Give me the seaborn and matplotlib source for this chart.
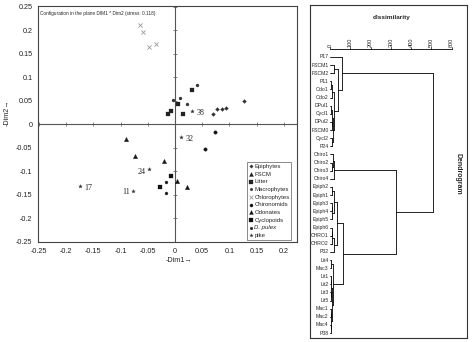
import matplotlib
matplotlib.use("Agg")
import matplotlib.pyplot as plt
import seaborn as sns
import pandas as pd

sns.set_style("white")
plt.rcParams["font.family"] = ["Liberation Sans", "DejaVu Sans"]

# ---------------- data: MDS configuration ----------------
epiphytes_x = [0.070, 0.078, 0.086, 0.093, 0.126]
epiphytes_y = [0.023, 0.033, 0.032, 0.036, 0.050]
fscm_x = [-0.090, -0.074, -0.020]
fscm_y = [-0.031, -0.066, -0.077]
litter_x = [-0.007, -0.012, 0.015, 0.006, 0.032]
litter_y = [0.029, 0.022, 0.022, 0.043, 0.073]
macro_x = [0.040, -0.003, 0.010, 0.022]
macro_y = [0.083, 0.053, 0.057, 0.043]
chloro_x = [-0.064, -0.058, -0.048, -0.035]
chloro_y = [0.212, 0.197, 0.164, 0.171]
chiro_x = [0.074, 0.056]
chiro_y = [-0.015, -0.053]
odo_x = [0.003, 0.023]
odo_y = [-0.121, -0.133]
cyclo_x = [-0.008, -0.027]
cyclo_y = [-0.109, -0.133]
dpulex_x = [-0.017, -0.017]
dpulex_y = [-0.123, -0.145]
pike_x = [0.032, 0.011, -0.048, -0.078, -0.175]
pike_y = [0.029, -0.027, -0.095, -0.141, -0.131]
pike_ids = ["38", "32", "24", "11", "17"]

x_ticks = [-0.25, -0.2, -0.15, -0.1, -0.05, 0, 0.05, 0.1, 0.15, 0.2]
x_tick_labels = ["-0.25", "-0.2", "-0.15", "-0.1", "-0.05", "0", "0.05", "0.1", "0.15", "0.2"]
y_ticks = [-0.25, -0.2, -0.15, -0.1, -0.05, 0, 0.05, 0.1, 0.15, 0.2, 0.25]
y_tick_labels = ["-0.25", "-0.2", "-0.15", "-0.1", "-0.05", "0", "0.05", "0.1", "0.15", "0.2", "0.25"]

# ---------------- data: dendrogram ----------------
leaf_labels = ["P17", "FSCM1", "FSCM2", "P11", "Odo1", "Odo2", "DPul1", "Cycl1", "DPul2",
               "FSCM0", "Cycl2", "P24", "Chiro1", "Chiro2", "Chiro3", "Chiro4", "Epiph2",
               "Epiph1", "Epiph3", "Epiph4", "Epiph5", "Epiph6", "CHRO1", "CHRO2", "P32",
               "Lit4", "Mac3", "Lit1", "Lit2", "Lit3", "Lit5", "Mac1", "Mac2", "Mac4", "P38"]
# (child a, child b, dissimilarity); ids >= number of leaves refer to earlier merges
merges = [
    (1, 2, 18), (3, 4, 6), (36, 5, 10), (6, 7, 5), (8, 9, 8), (10, 11, 8),
    (38, 39, 12), (41, 40, 16), (37, 42, 22), (35, 43, 39), (0, 44, 59),
    (13, 14, 10), (12, 46, 14), (47, 15, 18),
    (16, 17, 8), (18, 19, 8), (50, 20, 12), (49, 51, 20),
    (21, 22, 8), (53, 23, 12), (54, 24, 20), (52, 55, 35),
    (25, 26, 4), (27, 28, 3), (29, 30, 4), (58, 59, 6), (31, 32, 4), (33, 34, 5),
    (61, 62, 7), (60, 63, 10), (57, 64, 15), (56, 65, 64),
    (48, 66, 325), (45, 67, 508),
]
diss_ticks = [0, 100, 200, 300, 400, 500, 600]

# ---------------- figure ----------------
fig = plt.figure(figsize=(4.74, 3.42), dpi=100)
W, H = 474, 342


def px_axes(x0, y0, x1, y1):
    return fig.add_axes([x0 / W, (H - y1) / H, (x1 - x0) / W, (y1 - y0) / H])


ax = px_axes(38, 6, 297, 242)
ax.set_xlim(-0.2518, 0.2243)
ax.set_ylim(-0.25, 0.2521)

gray = "#555555"
ax.axhline(0, color=gray, lw=0.8, zorder=1)
ax.axvline(0, color=gray, lw=0.8, zorder=1)
# small tick marks on the zero lines
ax.plot(x_ticks, [0] * len(x_ticks), ls="none", marker="|", ms=2.5, mew=0.5, color=gray, zorder=1)
ax.plot([0] * len(y_ticks), y_ticks, ls="none", marker="_", ms=2.5, mew=0.5, color=gray, zorder=1)

groups = [
    ("Epiphytes", epiphytes_x, epiphytes_y, "D", 2.0, "#333333"),
    ("FSCM", fscm_x, fscm_y, "^", 3.2, "#1a1a1a"),
    ("Litter", litter_x, litter_y, "s", 2.9, "#222222"),
    ("Macrophytes", macro_x, macro_y, "o", 2.2, "#333333"),
    ("Chlorophytes", chloro_x, chloro_y, "x", 3.0, "#999999"),
    ("Chironomids", chiro_x, chiro_y, "o", 2.5, "#111111"),
    ("Odonates", odo_x, odo_y, "^", 3.2, "#111111"),
    ("Cyclopoids", cyclo_x, cyclo_y, "s", 3.3, "#111111"),
    ("D. pulex", dpulex_x, dpulex_y, "o", 2.2, "#222222"),
    ("pike", pike_x, pike_y, "*", 2.8, "#333333"),
]
for name, gx, gy, mk, sz, col in groups:
    df = pd.DataFrame({"x": gx, "y": gy})
    if mk == "x":
        sns.scatterplot(data=df, x="x", y="y", marker=mk, s=sz ** 2, color=col,
                        linewidth=0.6, ax=ax, label=name, zorder=3)
    else:
        sns.scatterplot(data=df, x="x", y="y", marker=mk, s=sz ** 2, color=col,
                        edgecolor=col, linewidth=0.2, ax=ax, label=name, zorder=3)

label_offsets = [(3, -1.3, "left"), (3.5, -1.3, "left"), (-2, -1.8, "right"),
                 (-2, -0.8, "right"), (3, -1.2, "left")]
for px_, py_, lab, (dx, dy, ha) in zip(pike_x, pike_y, pike_ids, label_offsets):
    ax.annotate(lab, (px_, py_), xytext=(dx, dy), textcoords="offset points",
                ha=ha, va="center", fontsize=5.8, family=["Liberation Serif", "DejaVu Serif"])

ax.set_xticks(x_ticks, x_tick_labels)
ax.set_yticks(y_ticks, y_tick_labels)
ax.tick_params(length=0, labelsize=5.2, pad=4, colors="#222222")
for sp in ax.spines.values():
    sp.set_color("#444444")
    sp.set_linewidth(0.8)
ax.set_xlabel("")
ax.set_ylabel("")
fig.text(179 / W, 1 - 261 / H, "-Dim1\u2192", fontsize=5.2, ha="center", va="center")
fig.text(7 / W, 1 - 113 / H, "-Dim2\u2192", fontsize=5.2, ha="center", va="center", rotation=90)
ax.text(0.008, 0.978, "Configuration in the plane DIM1 * Dim2 (stress: 0.118)",
        transform=ax.transAxes, fontsize=3.4, va="top", ha="left")

leg = ax.legend(loc="lower left", bbox_to_anchor=(0.808, 0.008, 0.17, 0.373), mode="expand",
                fontsize=4.3, frameon=True, fancybox=False, edgecolor="#333333",
                borderpad=0.35, labelspacing=0.42, handlelength=0.5, handletextpad=0.35,
                borderaxespad=0, markerscale=0.9)
leg.get_frame().set_linewidth(0.5)
leg.get_texts()[8].set_fontstyle("italic")

# ---------------- dendrogram ----------------
dx_scale = 0.2028  # px per unit
leaf_step = 8.12
dax = px_axes(310, 5, 467, 338)
dax.set_xlim((310 - 330) / dx_scale, (467 - 330) / dx_scale)
dax.set_ylim((338 - 57) / leaf_step, (5 - 57) / leaf_step)
dax.set_xticks([])
dax.set_yticks([])
for sp in dax.spines.values():
    sp.set_color("#333333")
    sp.set_linewidth(0.8)

n = len(leaf_labels)
pos = {i: float(i) for i in range(n)}
hgt = {i: 0.0 for i in range(n)}
for k, (a, b, h) in enumerate(merges):
    cid = n + k
    for c in (a, b):
        dax.plot([hgt[c], h], [pos[c], pos[c]], color="black", lw=0.6)
    dax.plot([h, h], [pos[a], pos[b]], color="black", lw=0.6)
    pos[cid] = (pos[a] + pos[b]) / 2
    hgt[cid] = h

for i, lab in enumerate(leaf_labels):
    dax.text(-7, i, lab, ha="right", va="center", fontsize=3.7,
             family=["Liberation Sans Narrow", "Liberation Sans", "DejaVu Sans"])

axis_y = (49 - 57) / leaf_step
dax.plot([diss_ticks[0], diss_ticks[-1]], [axis_y, axis_y], color="black", lw=0.6)
for t in diss_ticks:
    dax.plot([t, t], [axis_y, axis_y - 0.25], color="black", lw=0.5)
    dax.text(t, axis_y - 0.3, str(t), rotation=90, ha="center", va="bottom", fontsize=4.0)
dax.text((392 - 330) / dx_scale, (18 - 57) / leaf_step, "dissimilarity", ha="center",
         va="center", fontsize=4.6, fontweight="bold")
dax.text((458 - 330) / dx_scale, (174 - 57) / leaf_step, "Dendrogram", ha="center",
         va="center", rotation=270, fontsize=5.0, fontweight="bold")

fig.savefig("out.png", dpi=100)
